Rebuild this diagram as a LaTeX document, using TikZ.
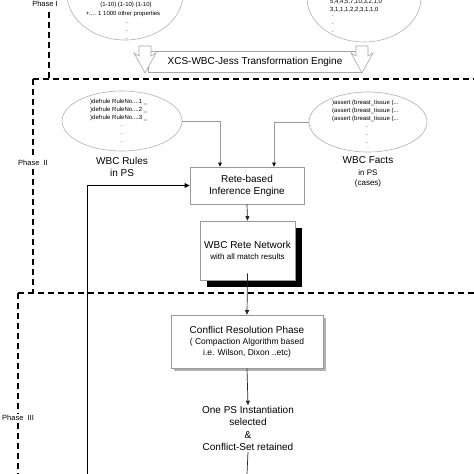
\documentclass[tikz,border=0pt]{standalone}
\usepackage{fontspec}
\setmainfont{Liberation Sans}
\usetikzlibrary{shapes.geometric,arrows.meta,shadows}
\begin{document}
\begin{tikzpicture}[x=1pt,y=-1pt,
  ell/.style={ellipse,draw=black!30,line width=0.6pt,inner sep=0pt},
  phaseline/.style={line width=1.6pt,dash pattern=on 6pt off 4pt},
  phaselabel/.style={fill=white,inner sep=1pt,font=\fontsize{7.5}{9}\selectfont},
  gbox/.style={draw=black!40,fill=white,line width=0.6pt,align=center,inner sep=2pt},
  small/.style={font=\fontsize{6}{8}\selectfont,inner sep=0pt},
  dots/.style={font=\fontsize{6}{8}\selectfont,align=center,inner sep=0pt},
  lbl/.style={align=center,inner sep=0pt,font=\fontsize{10}{11.5}\selectfont},
  gconn/.style={draw=black!40,line width=0.6pt,-{Triangle[length=4pt,width=3.5pt,color=black]}},
  bconn/.style={draw=black!85,line width=0.7pt,-{Triangle[length=4.5pt,width=4pt]}},
  fconn/.style={draw=black,line width=1pt,-{Triangle[length=5pt,width=4.5pt]}},
  barrow/.style={draw=black!35,fill=white,line width=0.6pt}
]
\useasboundingbox (0,0) rectangle (474,474);
\clip (0,0) rectangle (474,474);
\fill[white] (0,0) rectangle (474,474);

% ---------- Phase I ----------
\node[ell,minimum width=116pt,minimum height=92pt] (ellTL) at (125,-6) {};
\node[small,align=center] (tlA) at (126,5) {(1-10) (1-10) (1-10)};
\node[small,align=center] (tlB) at (123,14) {+.... 1 1000 other properties};
\node[dots] (tlD) at (127,31) {.\\.\\.};

\node[ell,minimum width=114pt,minimum height=88pt] (ellTR) at (364,-2) {};
\node[small,align=left,anchor=west] (trA) at (330,2) {5,4,4,5,7,10,3,2,1,0};
\node[small,align=left,anchor=west] (trB) at (330,10) {3,1,1,1,2,2,3,1,1,0};
\node[dots] (trD) at (333,24) {.\\.\\.};

\node[draw=black!35,line width=0.6pt,minimum width=214pt,minimum height=21pt,inner sep=0pt,
      font=\fontsize{10}{12}\selectfont] (xcs) at (255,61.5) {XCS-WBC-Jess Transformation Engine};
\draw[barrow] (139,46) -- (151,46) -- (151,56) -- (156,53) -- (145,73) -- (134,53) -- (139,56) -- cycle;
\draw[barrow] (356,46) -- (368,46) -- (368,56) -- (373,53) -- (362,73) -- (351,53) -- (356,56) -- cycle;

% ---------- phase dividers ----------
\draw[phaseline] (49,12) -- (49,79);
\draw[phaseline] (33,79) -- (474,79);
\draw[phaseline] (33,79) -- (33,293);
\draw[phaseline] (18,293) -- (474,293);
\draw[phaseline] (18,293) -- (18,474);
\node[phaselabel] (ph1) at (45,4) {Phase I};
\node[phaselabel] (ph2) at (33,163) {Phase\ \ II};
\node[phaselabel] (ph3) at (18,418) {Phase\ \ III};

% ---------- Phase II ----------
\node[ell,minimum width=120pt,minimum height=60pt] (ellR) at (122,121) {};
\node[small,align=left,anchor=north west] (rulesT) at (90,99) {)defrule RuleNo....1 \_\\)defrule RuleNo....2 \_\\)defrule RuleNo....3 \_};
\node[dots] (rulesD) at (122,134) {.\\.\\.};
\node[lbl] (rulesL) at (122,167) {WBC Rules\\in PS};

\node[ell,minimum width=118pt,minimum height=60pt] (ellF) at (368,122) {};
\node[small,align=left,anchor=north west] (factsT) at (332,100) {)assert (breast\_tissue (...\\(assert (breast\_tissue (...\\(assert (breast\_tissue (...};
\node[dots] (factsD) at (367,135) {.\\.\\.};
\node[lbl] (factsL) at (368,160.5) {WBC Facts};
\node[align=center,inner sep=0pt,font=\fontsize{8}{10}\selectfont] (factsL2) at (368,178) {in PS\\(cases)};

\node[gbox,minimum width=114pt,minimum height=37pt,font=\fontsize{10}{12}\selectfont] (rete) at (247,185.5) {Rete-based\\Inference Engine};

\draw[gconn] (ellR.east) -| ([xshift=-27pt]rete.north);
\draw[gconn] (ellF.west) -| ([xshift=27pt]rete.north);

\node[gbox,minimum width=95pt,minimum height=59pt,
      drop shadow={shadow xshift=7pt,shadow yshift=-7pt,fill=black,opacity=1},
      font=\fontsize{10}{12}\selectfont] (net) at (247.5,250.5)
      {WBC Rete Network\\[-1pt]{\fontsize{8}{10}\selectfont with all match results}};
\draw[bconn] (rete.south) -- (net.north);

% ---------- Phase III ----------
\node[gbox,minimum width=152pt,minimum height=53pt,
      drop shadow={shadow xshift=3pt,shadow yshift=-3pt,fill=black!30,opacity=1},
      font=\fontsize{10}{11}\selectfont] (cr) at (247,341.5)
      {Conflict Resolution Phase\\{\fontsize{8.5}{10.5}\selectfont ( Compaction Algorithm based}\\{\fontsize{8.5}{10.5}\selectfont i.e. Wilson, Dixon ..etc)}};
\draw[bconn] ([yshift=7pt]net.south) -- (cr.north);

\node[align=center,inner sep=1pt,font=\fontsize{10}{12.3}\selectfont] (sel) at (248,428.5)
      {One PS Instantiation\\selected\\\&\\Conflict-Set retained};
\draw[bconn] (cr.south) -- (sel.north);

\coordinate (outend) at (247,474);
\draw[draw=black!85,line width=0.7pt] (sel.south) -- (outend);

\coordinate (fb) at (87,474);
\draw[fconn] (fb) |- (rete.west);
\end{tikzpicture}
\end{document}
